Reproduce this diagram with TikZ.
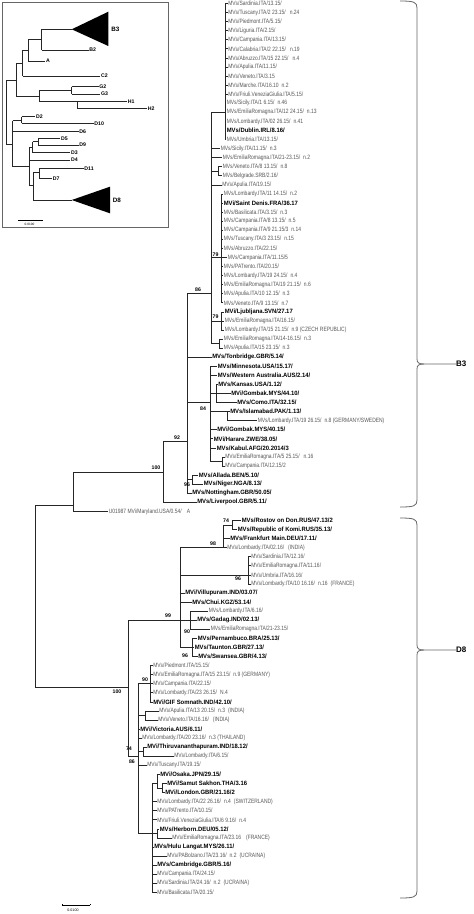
\documentclass[tikz,border=0pt]{standalone}
\usepackage{fontspec}
\newfontfamily\labfam[FakeStretch=0.8]{Liberation Sans}
\newfontfamily\reffam[FakeStretch=0.95]{Liberation Sans}
\newfontfamily\sansfam{Liberation Sans}
\newcommand\labf{\labfam\fontsize{6.2}{7}\selectfont}
\newcommand\reff{\reffam\bfseries\fontsize{6.2}{7}\selectfont}
\newcommand\bsf{\sansfam\bfseries\fontsize{5.2}{6}\selectfont}
\newcommand\rowy[1]{(3.5+(#1-1)*9.07)}
\newcommand\leaf[4]{\node[#2] (r#1) at (#3,{\rowy{#1}}) {#4};}
\tikzset{
  br/.style={line width=0.75pt, draw=black!85},
  ibr/.style={line width=0.6pt, draw=black!85},
  it/.style={anchor=west, inner sep=0.6pt, font=\labf, text=black!66},
  rf/.style={anchor=west, inner sep=0.6pt, font=\reff, text=black},
  bs/.style={font=\bsf, inner sep=0.3pt},
  il/.style={anchor=west, inner sep=0.6pt, font=\sansfam\bfseries\fontsize{5.2}{6}\selectfont},
  brace/.style={line width=0.8pt, draw=black!60},
  cl/.style={anchor=west, inner sep=0pt, font=\sansfam\bfseries\fontsize{8}{9}\selectfont},
}
\begin{document}
\begin{tikzpicture}[x=1pt,y=-1pt]
\useasboundingbox (0,0) rectangle (474,914);
\fill[white] (0,0) rectangle (474,914);

% ---------------- inset ----------------
\draw[line width=0.8pt, draw=black!60] (2.5,2.5) rectangle (168,227);
\coordinate (iroot) at (6,112);
\coordinate (id) at (16.7,80);
\coordinate (ic) at (22.7,63);
\coordinate (ia) at (28.3,50);
\coordinate (ib) at (41.7,39.3);
\coordinate (iGH) at (39.3,96.7);
\coordinate (iG) at (71.7,90);
\coordinate (iH) at (77.3,101.7);
\coordinate (iD) at (12.7,144);
\coordinate (iD2) at (21.7,120.7);
\coordinate (iL) at (29.3,166.7);
\coordinate (ip) at (32.7,147);
\coordinate (iD59) at (38.3,141.7);
\coordinate (iM) at (33.3,185);
\coordinate (iD117) at (39.3,172);
\coordinate (iB3t) at (71.7,29.3);
\coordinate (iD8t) at (71.7,200);
\fill (iB3t) -- (108.3,11.7) -- (108.3,46) -- cycle;
\fill (iD8t) -- (110,186.7) -- (110,213.3) -- cycle;
\node[il,font=\sansfam\bfseries\fontsize{6.3}{7}\selectfont] (iB3) at (110.5,29.3) {B3};
\node[il,font=\sansfam\bfseries\fontsize{6.3}{7}\selectfont] (iD8) at (112,200) {D8};
\node[il] (iB2) at (88.6,50) {B2};
\node[il] (iA) at (45.3,61) {A};
\node[il] (iC2) at (100.3,76) {C2};
\node[il] (iG2) at (98.6,86.7) {G2};
\node[il] (iG3) at (100.3,94) {G3};
\node[il] (iH1) at (127,101.7) {H1};
\node[il] (iH2) at (147,108.3) {H2};
\node[il] (iDa) at (35.3,116.7) {D2};
\node[il] (iDb) at (93.6,123.3) {D10};
\node[il] (iDc) at (78.6,131.7) {D6};
\node[il] (iDd) at (60.3,138.3) {D5};
\node[il] (iDe) at (78.6,145) {D9};
\node[il] (iDf) at (70.3,152.7) {D3};
\node[il] (iDg) at (70.3,160) {D4};
\node[il] (iDh) at (83.6,168.3) {D11};
\node[il] (iDi) at (52,178.3) {D7};
% inset verticals
\draw[ibr] (iroot |- id) -- (iroot |- iD);
\draw[ibr] (id |- ic) -- (id |- iGH);
\draw[ibr] (ic |- ia) -- (ic |- iC2.west);
\draw[ibr] (ia |- ib) -- (ia |- iA.west);
\draw[ibr] (ib |- iB3t) -- (ib |- iB2.west);
\draw[ibr] (iGH |- iG) -- (iGH |- iH);
\draw[ibr] (iG |- iG2.west) -- (iG |- iG3.west);
\draw[ibr] (iH |- iH1.west) -- (iH |- iH2.west);
\draw[ibr] (iD |- iD2) -- (iD |- iL);
\draw[ibr] (iD2 |- iDa.west) -- (iD2 |- iDb.west);
\draw[ibr] (iL |- ip) -- (iL |- iM);
\draw[ibr] (ip |- iD59) -- (ip |- iDf.west);
\draw[ibr] (iD59 |- iDd.west) -- (iD59 |- iDe.west);
\draw[ibr] (iM |- iD117) -- (iM |- iD8t);
\draw[ibr] (iD117 |- iDh.west) -- (iD117 |- iDi.west);
% inset horizontals
\foreach \p/\c in {iroot/id, iroot/iD, id/ic, id/iGH, ic/ia, ia/ib, iGH/iG, iGH/iH, iD/iD2, iD/iL, iL/ip, iL/iM, ip/iD59, iM/iD117, ib/iB3t, iM/iD8t}
  \draw[ibr] (\p |- \c) -- (\c);
\foreach \p/\c in {ib/iB2, ia/iA, ic/iC2, iG/iG2, iG/iG3, iH/iH1, iH/iH2, iD2/iDa, iD2/iDb, iD/iDc, iD59/iDd, iD59/iDe, ip/iDf, iL/iDg, iD117/iDh, iD117/iDi}
  \draw[ibr] (\p |- \c.west) -- (\c.west);
\coordinate (isb1) at (18.3,220.7);
\coordinate (isb2) at (43.3,220.7);
\draw[line width=0.5pt] (isb1) -- (isb2);
\node[font=\sansfam\fontsize{3.2}{4}\selectfont, inner sep=0pt] (isbt) at (29.5,224.8) {0.0100};

% ---------------- leaves: B3 ----------------
\leaf{1}{it}{227.5}{MVs/Sardinia.ITA/13.15/}
\leaf{2}{it}{227.5}{MVs/Tuscany.ITA/2 23.15/\hspace{4pt}n.24}
\leaf{3}{it}{227.5}{MVs/Piedmont.ITA/5.15/}
\leaf{4}{it}{227.5}{MVs/Liguria.ITA/2.15/}
\leaf{5}{it}{227.5}{MVs/Campania.ITA/13.15/}
\leaf{6}{it}{227.5}{MVs/Calabria.ITA/2 22.15/\hspace{4pt}n.19}
\leaf{7}{it}{227.5}{MVs/Abruzzo.ITA/15 22.15/\hspace{4pt}n.4}
\leaf{8}{it}{227.5}{MVs/Apulia.ITA/11.15/}
\leaf{9}{it}{227.5}{MVs/Veneto.ITA/3.15}
\leaf{10}{it}{227.5}{MVs/Marche.ITA/16.10\hspace{3pt}n.2}
\leaf{11}{it}{227.5}{MVs/Friuli.VeneziaGiulia.ITA/5.15/}
\leaf{12}{it}{226}{MVs/Sicily.ITA/1 6.15/\hspace{3pt}n.46}
\leaf{13}{it}{226}{MVs/EmiliaRomagna.ITA/12 24.15/\hspace{3pt}n.13}
\leaf{14}{it}{226}{MVs/Lombardy.ITA/02 26.15/\hspace{3pt}n.41}
\leaf{15}{rf}{226}{MVs/Dublin.IRL/8.16/}
\leaf{16}{it}{226}{MVs/Umbria.ITA/13.15/}
\leaf{17}{it}{220}{MVs/Sicily.ITA/11.15/\hspace{3pt}n.3}
\leaf{18}{it}{222}{MVs/EmiliaRomagna.ITA/21-23.15/\hspace{3pt}n.2}
\leaf{19}{it}{222}{MVs/Veneto.ITA/8 13.15/\hspace{3pt}n.8}
\leaf{20}{it}{222}{MVs/Belgrade.SRB/2.16/}
\leaf{21}{it}{221.5}{MVs/Apulia.ITA/19.15/}
\leaf{22}{it}{223}{MVs/Lombardy.ITA/11 14.15/\hspace{3pt}n.2}
\leaf{23}{rf}{223}{MVi/Saint Denis.FRA/36.17}
\leaf{24}{it}{223}{MVs/Basilicata.ITA/3.15/\hspace{3pt}n.3}
\leaf{25}{it}{223}{MVs/Campania.ITA/8 13.15/\hspace{3pt}n.5}
\leaf{26}{it}{223}{MVs/Campania.ITA/9 21.15/3\hspace{3pt}n.14}
\leaf{27}{it}{223}{MVs/Tuscany.ITA/3 23.15/\hspace{3pt}n.15}
\leaf{28}{it}{223}{MVs/Abruzzo.ITA/22.15/}
\leaf{29}{it}{227}{MVs/Campania.ITA/11.15/5}
\leaf{30}{it}{223}{MVs/PATrento.ITA/20.15/}
\leaf{31}{it}{223}{MVs/Lombardy.ITA/19 24.15/\hspace{3pt}n.4}
\leaf{32}{it}{223}{MVs/EmiliaRomagna.ITA/19 21.15/\hspace{3pt}n.6}
\leaf{33}{it}{223}{MVs/Apulia.ITA/10 12.15/\hspace{3pt}n.3}
\leaf{34}{it}{223}{MVs/Veneto.ITA/9 13.15/\hspace{3pt}n.7}
\leaf{35}{rf}{224}{MVi/Ljubljana.SVN/27.17}
\leaf{36}{it}{224}{MVs/EmiliaRomagna.ITA/16.15/}
\leaf{37}{it}{224}{MVs/Lombardy.ITA/15 21.15/\hspace{3pt}n.9 (CZECH REPUBLIC)}
\leaf{38}{it}{223}{MVs/EmiliaRomagna.ITA/14-16.15/\hspace{3pt}n.3}
\leaf{39}{it}{223}{MVs/Apulia.ITA/15 23.15/\hspace{3pt}n.3}
\leaf{40}{rf}{211.5}{MVs/Tonbridge.GBR/5.14/}
\leaf{41}{rf}{217}{MVs/Minnesota.USA/15.17/}
\leaf{42}{rf}{217}{MVs/Western Australia.AUS/2.14/}
\leaf{43}{rf}{217.5}{MVs/Kansas.USA/1.12/}
\leaf{44}{rf}{230.5}{MVi/Gombak.MYS/44.10/}
\leaf{45}{rf}{236.5}{MVs/Como.ITA/32.15/}
\leaf{46}{rf}{229.5}{MVs/Islamabad.PAK/1.13/}
\leaf{47}{it}{257}{MVs/Lombardy.ITA/19 26.15/\hspace{3pt}n.8 (GERMANY/SWEDEN)}
\leaf{48}{rf}{216.5}{MVi/Gombak.MYS/40.15/}
\leaf{49}{rf}{213}{MVi/Harare.ZWE/38.05/}
\leaf{50}{rf}{216}{MVs/Kabul.AFG/20.2014/3}
\leaf{51}{it}{224.5}{MVs/EmiliaRomagna.ITA/5 25.15/\hspace{4pt}n.16}
\leaf{52}{it}{224.5}{MVs/Campania.ITA/12.15/2}
\leaf{53}{rf}{198}{MVs/Allada.BEN/5.10/}
\leaf{54}{rf}{203}{MVs/Niger.NGA/8.13/}
\leaf{55}{rf}{191.5}{MVs/Nottingham.GBR/50.05/}
\leaf{56}{rf}{196.5}{MVs/Liverpool.GBR/5.11/}
\leaf{57}{it}{108}{U01987 MVi/Maryland.USA/0.54/\hspace{5pt}A}

% ---------------- leaves: D8 ----------------
\leaf{58}{rf}{241}{MVs/Rostov on Don.RUS/47.13/2}
\leaf{59}{rf}{237}{MVs/Republic of Komi.RUS/35.13/}
\leaf{60}{rf}{229.5}{MVs/Frankfurt Main.DEU/17.11/}
\leaf{61}{it}{226.5}{MVs/Lombardy.ITA/02.16/\hspace{4pt}(INDIA)}
\leaf{62}{it}{250.5}{MVs/Sardinia.ITA/12.16/}
\leaf{63}{it}{250.5}{MVs/EmiliaRomagna.ITA/11.16/}
\leaf{64}{it}{250.5}{MVs/Umbria.ITA/16.16/}
\leaf{65}{it}{250.5}{MVs/Lombardy.ITA/10 16.16/\hspace{3pt}n.16\hspace{3pt}(FRANCE)}
\leaf{66}{rf}{184.5}{MVi/Villupuram.IND/03.07/}
\leaf{67}{rf}{191.5}{MVs/Chui.KGZ/53.14/}
\leaf{68}{it}{208}{MVs/Lombardy.ITA/6.16/}
\leaf{69}{rf}{196.5}{MVs/Gadag.IND/02.13/}
\leaf{70}{it}{210}{MVs/EmiliaRomagna.ITA/21-23.15/}
\leaf{71}{rf}{197}{MVs/Pernambuco.BRA/25.13/}
\leaf{72}{rf}{194}{MVs/Taunton.GBR/27.13/}
\leaf{73}{rf}{197.5}{MVs/Swansea.GBR/4.13/}
\leaf{74}{it}{152.5}{MVs/Piedmont.ITA/15.15/}
\leaf{75}{it}{152.5}{MVs/EmiliaRomagna.ITA/15 23.15/\hspace{3pt}n.9 (GERMANY)}
\leaf{76}{it}{152.5}{MVs/Campania.ITA/22.15/}
\leaf{77}{it}{152.5}{MVs/Lombardy.ITA/23 26.15/\hspace{3pt}N.4}
\leaf{78}{rf}{152.5}{MVi/GIF Somnath.IND/42.10/}
\leaf{79}{it}{158.5}{MVs/Apulia.ITA/13 20.15/\hspace{3pt}n.3\hspace{3pt}(INDIA)}
\leaf{80}{it}{157.5}{MVs/Veneto.ITA/16.16/\hspace{4pt}(INDIA)}
\leaf{81}{rf}{139.5}{MVi/Victoria.AUS/6.11/}
\leaf{82}{it}{141.5}{MVs/Lombardy.ITA/20 23.16/\hspace{3pt}n.3 (THAILAND)}
\leaf{83}{rf}{146.5}{MVi/Thiruvananthapuram.IND/18.12/}
\leaf{84}{it}{173.5}{MVs/Lombardy.ITA/6.15/}
\leaf{85}{it}{146.5}{MVs/Tuscany.ITA/19.15/}
\leaf{86}{rf}{159.5}{MVi/Osaka.JPN/29.15/}
\leaf{87}{rf}{166.5}{MVi/Samut Sakhon.THA/3.16}
\leaf{88}{rf}{164.5}{MVi/London.GBR/21.16/2}
\leaf{89}{it}{156.5}{MVs/Lombardy.ITA/22 26.16/\hspace{3pt}n.4\hspace{3pt}(SWITZERLAND)}
\leaf{90}{it}{156.5}{MVs/PATrento.ITA/10.15/}
\leaf{91}{it}{156.5}{MVs/Friuli.VeneziaGiulia.ITA/6 9.16/\hspace{3pt}n.4}
\leaf{92}{rf}{159}{MVs/Herborn.DEU/05.12/}
\leaf{93}{it}{171.5}{MVs/EmiliaRomagna.ITA/23.16\hspace{5pt}(FRANCE)}
\leaf{94}{rf}{153.5}{MVs/Hulu Langat.MYS/26.11/}
\leaf{95}{it}{166.5}{MVs/PABolzano.ITA/23.16/\hspace{3pt}n.2\hspace{3pt}(UCRAINA)}
\leaf{96}{rf}{156.5}{MVs/Cambridge.GBR/5.16/}
\leaf{97}{it}{156.5}{MVs/Campania.ITA/24.15/}
\leaf{98}{it}{156.5}{MVs/Sardinia.ITA/24.16/\hspace{3pt}n.2\hspace{3pt}(UCRAINA)}
\leaf{99}{it}{156.5}{MVs/Basilicata.ITA/20.15/}

% ---------------- internal nodes ----------------
\coordinate (P0) at (225,{\rowy{13}});
\coordinate (N86) at (211,{\rowy{33}});
\coordinate (Q1) at (218,{\rowy{19.5}});
\coordinate (N79a) at (221,{\rowy{29}});
\coordinate (N79b) at (221,{\rowy{36}});
\coordinate (Q2) at (219,{\rowy{38.5}});
\coordinate (N92) at (187,441);
\coordinate (NB) at (210,{\rowy{45}});
\coordinate (Q3) at (216,{\rowy{44}});
\coordinate (Q4) at (227,{\rowy{46}});
\coordinate (Q5) at (222,{\rowy{51.5}});
\coordinate (Q6) at (192,{\rowy{53.5}});
\coordinate (N100) at (163,472);
\coordinate (NA) at (73,505);
\coordinate (R0) at (35,600);
\coordinate (R) at (128,687);
\coordinate (A) at (180,{\rowy{69}});
\coordinate (N98) at (223,{\rowy{61}});
\coordinate (N74) at (232,{\rowy{58.5}});
\coordinate (N96b) at (248,{\rowy{64}});
\coordinate (N90) at (190,{\rowy{69}});
\coordinate (N96c) at (192,{\rowy{72}});
\coordinate (E) at (138,{\rowy{84}});
\coordinate (N90b) at (150,{\rowy{76}});
\coordinate (Nap) at (145,{\rowy{79.5}});
\coordinate (N74b) at (143,{\rowy{83.5}});
\coordinate (F) at (152,{\rowy{92.5}});
\coordinate (Nos) at (157,{\rowy{87}});
\coordinate (Nsl) at (162,{\rowy{87.5}});
\coordinate (Nhb) at (157,{\rowy{92.5}});

% verticals
\draw[br] (P0 |- r1.west) -- (P0 |- r16.west);
\draw[br] (N86 |- P0) -- (N86 |- Q2);
\draw[br] (Q1 |- r19.west) -- (Q1 |- r20.west);
\draw[br] (N79a |- r22.west) -- (N79a |- r34.west);
\draw[br] (N79b |- r35.west) -- (N79b |- r37.west);
\draw[br] (Q2 |- r38.west) -- (Q2 |- r39.west);
\draw[br] (N92 |- N86) -- (N92 |- r55.west);
\draw[br] (NB |- r41.west) -- (NB |- Q5);
\draw[br] (Q3 |- r43.west) -- (Q3 |- r45.west);
\draw[br] (Q4 |- r46.west) -- (Q4 |- r47.west);
\draw[br] (Q5 |- r51.west) -- (Q5 |- r52.west);
\draw[br] (Q6 |- r53.west) -- (Q6 |- r54.west);
\draw[br] (N100 |- N92) -- (N100 |- r56.west);
\draw[br] (NA |- N100) -- (NA |- r57.west);
\draw[br] (R0 |- NA) -- (R0 |- R);
\draw[br] (R |- A) -- (R |- E);
\draw[br] (A |- N98) -- (A |- N96c);
\draw[br] (N98 |- N74) -- (N98 |- r61.west);
\draw[br] (N74 |- r58.west) -- (N74 |- r59.west);
\draw[br] (N96b |- r62.west) -- (N96b |- r65.west);
\draw[br] (N90 |- r68.west) -- (N90 |- r70.west);
\draw[br] (N96c |- r71.west) -- (N96c |- r73.west);
\draw[br] (E |- N90b) -- (E |- F);
\draw[br] (N90b |- r74.west) -- (N90b |- r78.west);
\draw[br] (Nap |- r79.west) -- (Nap |- r80.west);
\draw[br] (N74b |- r83.west) -- (N74b |- r84.west);
\draw[br] (F |- Nos) -- (F |- r99.west);
\draw[br] (Nos |- r86.west) -- (Nos |- Nsl);
\draw[br] (Nsl |- r87.west) -- (Nsl |- r88.west);
\draw[br] (Nhb |- r92.west) -- (Nhb |- r93.west);

% internal horizontals
\foreach \p/\c in {N86/P0, N86/Q1, N86/N79a, N86/N79b, N86/Q2, N92/N86, N92/NB, NB/Q3, NB/Q4, NB/Q5, N92/Q6, N100/N92, NA/N100, R0/NA, R0/R, R/A, R/E, A/N98, N98/N74, A/N96b, A/N90, A/N96c, E/N90b, E/Nap, E/N74b, E/F, F/Nos, Nos/Nsl, F/Nhb}
  \draw[br] (\p |- \c) -- (\c);

% leaf branches
\foreach \p/\ls in {P0/{1,...,16}, N86/{17,18,21}, Q1/{19,20}, N79a/{22,...,34}, N79b/{35,36,37}, Q2/{38,39}, N92/{40,55}, NB/{41,42,48,49,50}, Q3/{43,44,45}, Q4/{46,47}, Q5/{51,52}, Q6/{53,54}, N100/{56}, NA/{57}, N74/{58,59}, N98/{60,61}, N96b/{62,...,65}, A/{66,67}, N90/{68,69,70}, N96c/{71,72,73}, N90b/{74,...,78}, Nap/{79,80}, E/{81,82,85}, N74b/{83,84}, Nos/{86}, Nsl/{87,88}, F/{89,90,91,94,95,96,97,98,99}, Nhb/{92,93}}
  {\foreach \i in \ls {\draw[br] (\p |- r\i.west) -- (r\i.west);}}

% bootstrap values
\node[bs] (b1) at (215.5,255) {79};
\node[bs] (b2) at (198,290) {86};
\node[bs] (b3) at (215.5,317) {79};
\node[bs] (b4) at (203,409) {84};
\node[bs] (b5) at (177,437.5) {92};
\node[bs] (b6) at (156,468) {100};
\node[bs] (b7) at (187,485) {96};
\node[bs] (b8) at (226,521) {74};
\node[bs] (b9) at (213,544) {98};
\node[bs] (b10) at (238,579) {96};
\node[bs] (b11) at (168,616) {99};
\node[bs] (b12) at (187,632) {90};
\node[bs] (b13) at (185,656) {96};
\node[bs] (b14) at (145,680) {90};
\node[bs] (b15) at (117,692) {100};
\node[bs] (b16) at (129,749) {74};
\node[bs] (b17) at (132,762) {86};

% scale bar
\coordinate (sb1) at (62,905);
\coordinate (sb2) at (90,905);
\draw[line width=0.6pt] (sb1) -- (sb2);
\draw[line width=0.4pt] (sb1) -- ++(0,-1.5) (sb2) -- ++(0,-1.5);
\node[font=\sansfam\fontsize{3.6}{4}\selectfont, inner sep=0pt] (sbt) at (73,910) {0.0100};

% braces and clade labels
\node[cl] (cB3) at (456,364) {B3};
\node[cl] (cD8) at (456,650) {D8};
\draw[brace] (400,1) .. controls (414,1) and (417,2) .. (417,8) -- (417,359) .. controls (417,363) and (419,364) .. (424,364) -- (cB3.west);
\draw[brace] (424,364) .. controls (419,364) and (417,365) .. (417,369) -- (417,500) .. controls (417,506) and (414,507) .. (400,507);
\draw[brace] (400,518) .. controls (414,518) and (417,519) .. (417,525) -- (417,645) .. controls (417,649) and (419,650) .. (424,650) -- (cD8.west);
\draw[brace] (424,650) .. controls (419,650) and (417,651) .. (417,655) -- (417,891) .. controls (417,897) and (414,898) .. (400,898);
\end{tikzpicture}
\end{document}
